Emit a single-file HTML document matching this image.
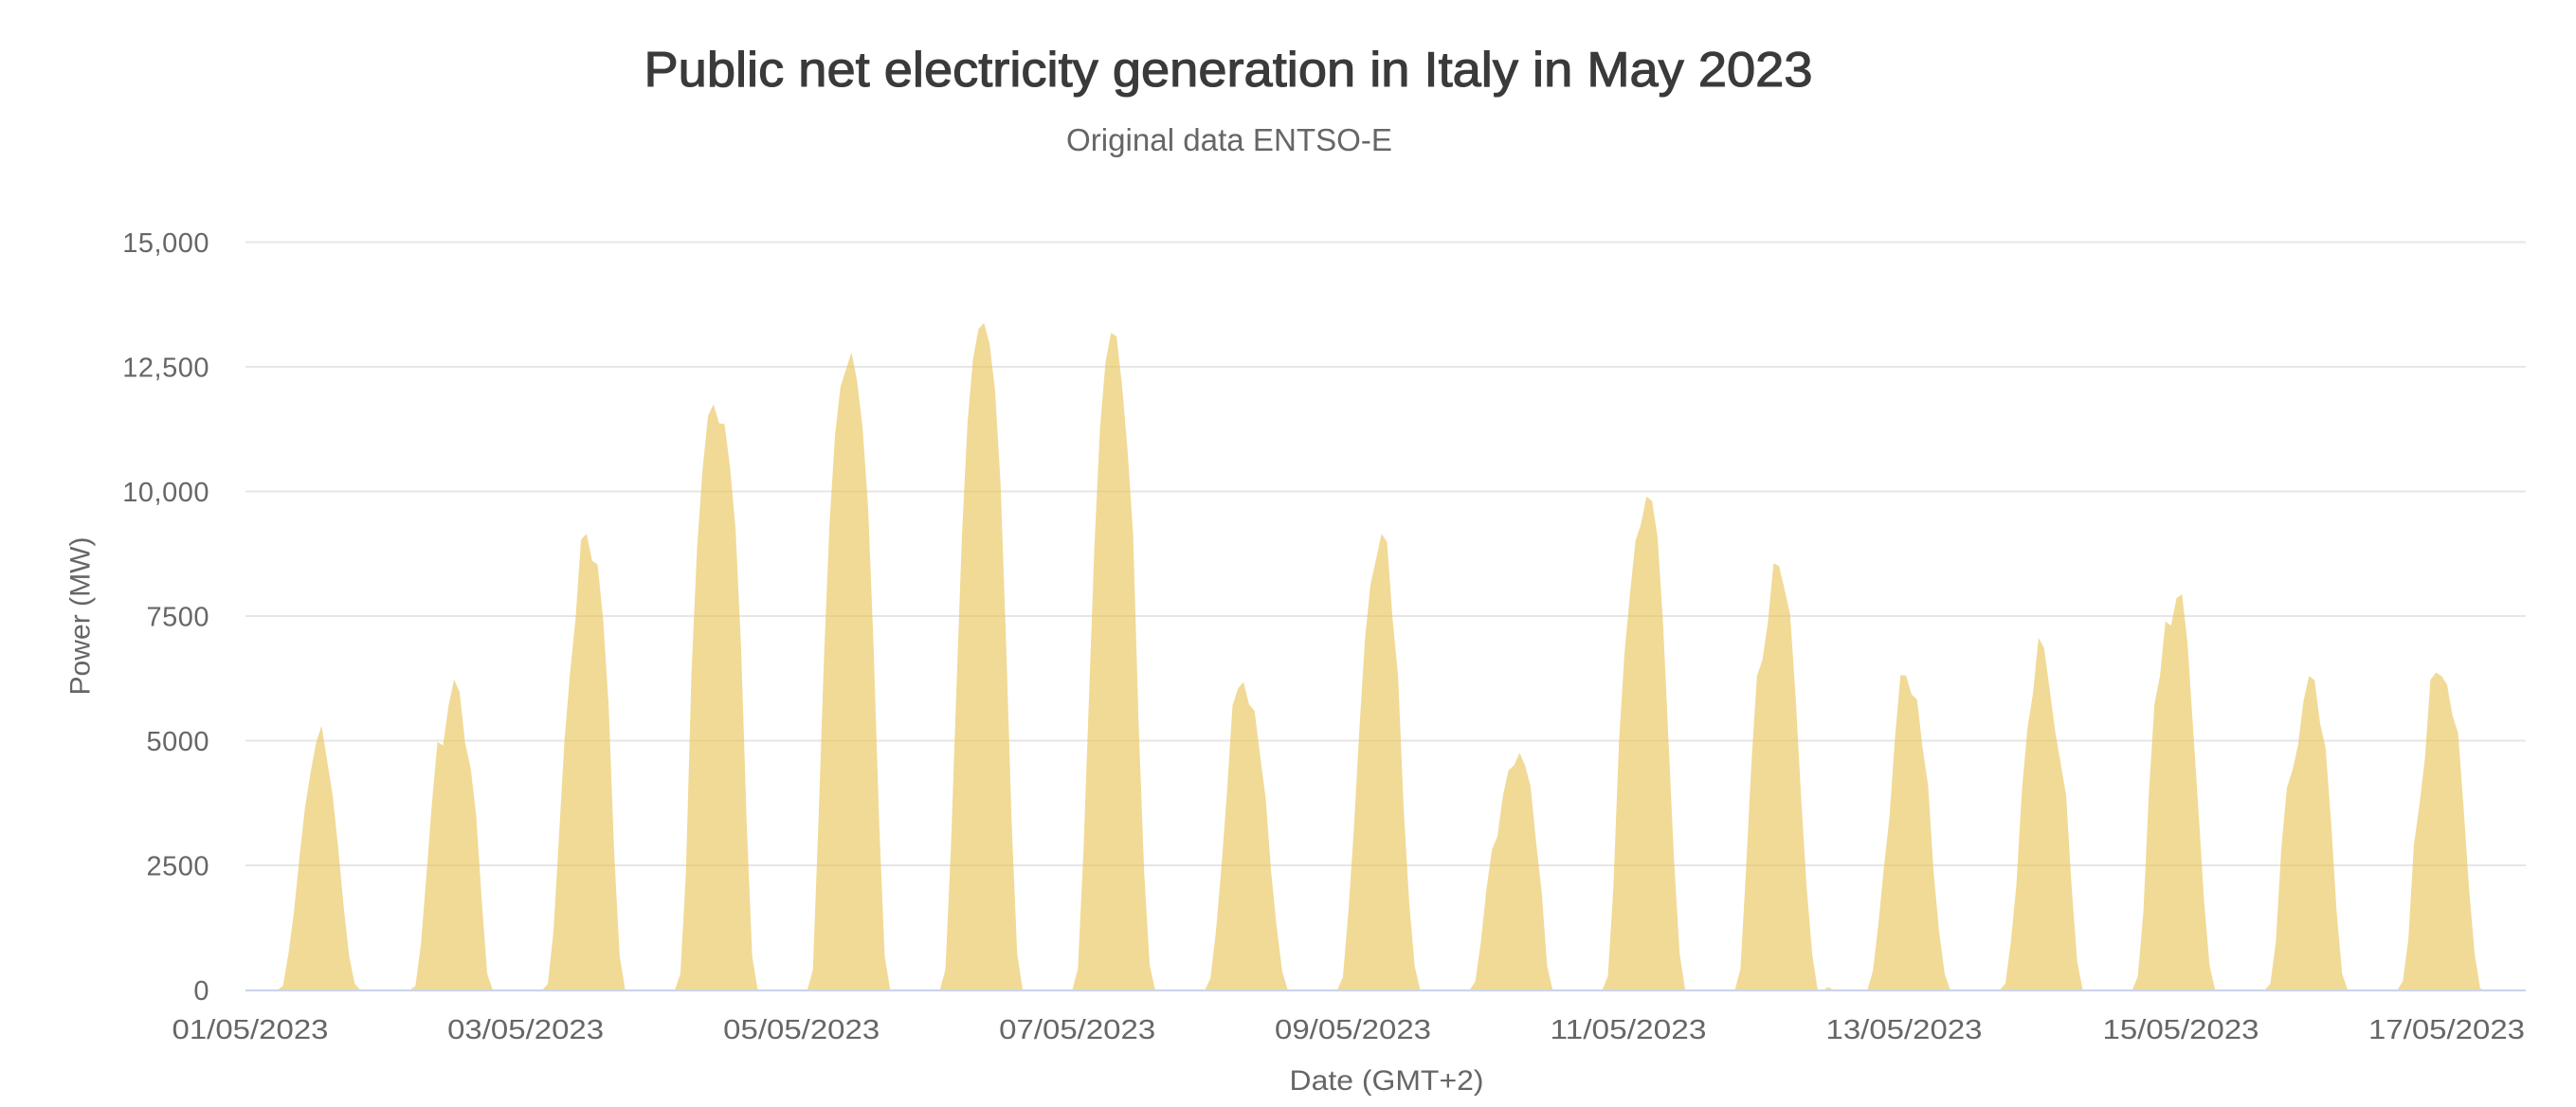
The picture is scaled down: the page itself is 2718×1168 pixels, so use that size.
<!DOCTYPE html>
<html>
<head>
<meta charset="utf-8">
<style>
html,body{margin:0;padding:0;background:#ffffff;}
svg{display:block;}
</style>
</head>
<body>
<svg xmlns="http://www.w3.org/2000/svg" width="2718" height="1168" viewBox="0 0 2718 1168" font-family="'Liberation Sans', Arial, sans-serif">
  <rect x="0" y="0" width="2718" height="1168" fill="#ffffff"/>

  <!-- Title & subtitle -->
  <text x="1296" y="91" text-anchor="middle" font-size="52" fill="#3a3a3a" stroke="#3a3a3a" stroke-width="1.1" textLength="1233" lengthAdjust="spacingAndGlyphs">Public net electricity generation in Italy in May 2023</text>
  <text x="1297" y="159" text-anchor="middle" font-size="33" fill="#666666" textLength="344" lengthAdjust="spacingAndGlyphs">Original data ENTSO-E</text>

  <!-- Grid lines -->
  <g stroke="#e6e6e6" stroke-width="2">
    <line x1="259" y1="255.5" x2="2665" y2="255.5"/>
    <line x1="259" y1="387" x2="2665" y2="387"/>
    <line x1="259" y1="518.5" x2="2665" y2="518.5"/>
    <line x1="259" y1="650" x2="2665" y2="650"/>
    <line x1="259" y1="781.5" x2="2665" y2="781.5"/>
    <line x1="259" y1="913" x2="2665" y2="913"/>
  </g>

  <!-- Y-axis labels -->
  <g font-size="29" fill="#666666" text-anchor="end" letter-spacing="0.5">
    <text x="221" y="266">15,000</text>
    <text x="221" y="397.5">12,500</text>
    <text x="221" y="529">10,000</text>
    <text x="221" y="660.5">7500</text>
    <text x="221" y="792">5000</text>
    <text x="221" y="923.5">2500</text>
    <text x="221" y="1055">0</text>
  </g>

  <!-- Y-axis title -->
  <text transform="translate(94.5,650) rotate(-90)" text-anchor="middle" font-size="30" fill="#666666" textLength="167" lengthAdjust="spacingAndGlyphs">Power (MW)</text>

  <!-- Area series -->
  <g transform="translate(257.75 1044.5) scale(5.825 -0.0526)" fill="rgb(233,198,93)" fill-opacity="0.65" stroke="none">
    <polygon transform="translate(0 0)" points="6,0 7,80 8,726 9,1572 10,2666 11,3660 12,4357 13,4954 14,5302 15,4606 16,3909 17,2865 18,1671 19,676 20,129 21,0"/>
    <polygon transform="translate(24 0)" points="6,0 7,80 8,925 9,2318 10,3760 11,4974 12,4904 13,5700 14,6227 15,5978 16,4954 17,4456 18,3511 19,1820 20,328 21,0"/>
    <polygon transform="translate(48 0)" points="6,0 7,129 8,1174 9,3064 10,5003 11,6346 12,7440 13,9032 14,9151 15,8614 16,8534 17,7440 18,5700 19,2765 20,676 21,0"/>
    <polygon transform="translate(72 0)" points="6,0 7,328 8,2367 9,6346 10,8833 11,10425 12,11519 13,11748 14,11370 15,11350 16,10475 17,9231 18,6844 19,3362 20,676 21,0"/>
    <polygon transform="translate(96 0)" points="6,0 7,408 8,3360 9,6645 10,9330 11,11121 12,12100 13,12450 14,12790 15,12220 16,11270 17,9680 18,6850 19,3360 20,680 21,0"/>
    <polygon transform="translate(120 0)" points="6,0 7,408 8,2865 9,6050 10,9131 11,11370 12,12660 13,13260 14,13380 15,12960 16,12020 17,10130 18,6940 19,3360 20,726 21,0"/>
    <polygon transform="translate(144 0)" points="6,0 7,428 8,2765 9,5850 10,8930 11,11270 12,12590 13,13180 14,13110 15,12120 16,10820 17,9130 18,5350 19,2370 20,497 21,0"/>
    <polygon transform="translate(168 0)" points="6,0 7,229 8,1174 9,2467 10,3959 11,5700 12,6048 13,6177 14,5730 15,5600 16,4705 17,3860 18,2367 19,1273 20,378 21,0"/>
    <polygon transform="translate(192 0)" points="6,0 7,259 8,1572 9,3263 10,5252 11,7043 12,8137 13,8634 14,9151 15,8982 16,7440 17,6296 18,3660 19,1770 20,477 21,0"/>
    <polygon transform="translate(216 0)" points="6,0 7,179 8,975 9,2019 10,2815 11,3084 12,3909 13,4407 14,4506 15,4755 16,4506 17,4078 18,2964 19,1970 20,477 21,0"/>
    <polygon transform="translate(240 0)" points="6,0 7,279 8,2069 9,4954 10,6744 11,7938 12,9012 13,9350 14,9897 15,9808 16,9082 17,7341 18,4954 19,2566 20,726 21,0"/>
    <polygon transform="translate(264 0)" points="6,0 7,408 8,2367 9,4556 10,6296 11,6625 12,7391 13,8555 14,8505 15,8037 16,7540 17,5899 18,3859 19,2069 20,726 21,0 22.3,0 22.6,45 23.3,45 23.6,0"/>
    <polygon transform="translate(288 0)" points="6,0 7,378 8,1323 9,2467 10,3462 11,5053 12,6316 13,6306 14,5928 15,5829 16,4854 17,4108 18,2367 19,1174 20,328 21,0"/>
    <polygon transform="translate(312 0)" points="6,0 7,129 8,975 9,2119 10,4009 11,5252 12,5948 13,7062 14,6864 15,6048 16,5202 17,4556 18,3909 19,2069 20,577 21,0"/>
    <polygon transform="translate(336 0)" points="6,0 7,279 8,1572 9,3959 10,5730 11,6297 12,7391 13,7311 14,7858 15,7938 16,6943 17,5252 18,3561 19,1771 20,477 21,0"/>
    <polygon transform="translate(360 0)" points="6,0 7,129 8,975 9,2865 10,4058 11,4407 12,4904 13,5799 14,6297 15,6217 16,5352 17,4854 18,3362 19,1572 20,328 21,0"/>
    <polygon transform="translate(384 0)" points="6,0 7,179 8,1025 9,2914 10,3710 11,4655 12,6227 13,6366 14,6297 15,6127 16,5500 17,5153 18,3660 19,2019 20,726 21,30 21.8,0"/>
  </g>

  <!-- X-axis line -->
  <line x1="259" y1="1045" x2="2665" y2="1045" stroke="#ccd6eb" stroke-width="2.2"/>

  <!-- X-axis labels -->
  <g font-size="29" fill="#666666" text-anchor="middle">
    <text x="264" y="1096" textLength="165" lengthAdjust="spacingAndGlyphs">01/05/2023</text>
    <text x="554.6" y="1096" textLength="165" lengthAdjust="spacingAndGlyphs">03/05/2023</text>
    <text x="845.7" y="1096" textLength="165" lengthAdjust="spacingAndGlyphs">05/05/2023</text>
    <text x="1136.7" y="1096" textLength="165" lengthAdjust="spacingAndGlyphs">07/05/2023</text>
    <text x="1427.5" y="1096" textLength="165" lengthAdjust="spacingAndGlyphs">09/05/2023</text>
    <text x="1718" y="1096" textLength="165" lengthAdjust="spacingAndGlyphs">11/05/2023</text>
    <text x="2009" y="1096" textLength="165" lengthAdjust="spacingAndGlyphs">13/05/2023</text>
    <text x="2301" y="1096" textLength="165" lengthAdjust="spacingAndGlyphs">15/05/2023</text>
    <text x="2581.5" y="1096" textLength="165" lengthAdjust="spacingAndGlyphs">17/05/2023</text>
  </g>

  <!-- X-axis title -->
  <text x="1463" y="1150" text-anchor="middle" font-size="30" fill="#666666" textLength="205" lengthAdjust="spacingAndGlyphs">Date (GMT+2)</text>
</svg>
</body>
</html>
